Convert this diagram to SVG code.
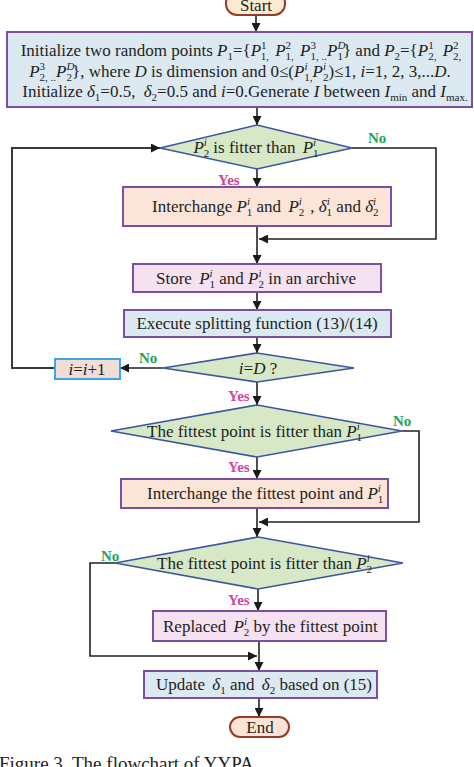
<svg xmlns="http://www.w3.org/2000/svg" width="474" height="767" viewBox="0 0 474 767">
<style>
.t{font-family:"Liberation Serif","Times New Roman",serif;font-size:17px;fill:#1e1e1e}
.i{font-style:italic}
.s{font-size:11px}
.lab{font-family:"Liberation Serif","Times New Roman",serif;font-size:15px;font-weight:bold}
.yes{fill:#d4469c}
.no{fill:#1ea55a}
.ln{fill:none;stroke:#222;stroke-width:1.6}
.bx{stroke:#7a4fa4;stroke-width:2}
.blue{fill:#dce9f1}
.peach{fill:#fbe4d8}
.pink{fill:#f5e1ef}
.dia{fill:#d6e8c6;stroke:#3d55a3;stroke-width:1.6}
.term{stroke:#943a26;stroke-width:2}
</style>
<defs>
<marker id="ah" viewBox="0 0 10 10" refX="10" refY="5" markerWidth="9" markerHeight="9" markerUnits="userSpaceOnUse" orient="auto">
<path d="M0,0 L10,5 L0,10 z" fill="#1a1a1a"/>
</marker>
</defs>
<rect width="474" height="767" fill="#ffffff"/>

<g id="connectors">
<path class="ln" d="M256,15 V32" marker-end="url(#ah)"/>
<path class="ln" d="M257,108 V125" marker-end="url(#ah)"/>
<path class="ln" d="M352,148 H436 V239 H259" marker-end="url(#ah)"/>
<path class="ln" d="M257,169 V187" marker-end="url(#ah)"/>
<path class="ln" d="M257,226 V264" marker-end="url(#ah)"/>
<path class="ln" d="M257,292 V310" marker-end="url(#ah)"/>
<path class="ln" d="M257,337 V353" marker-end="url(#ah)"/>
<path class="ln" d="M163,368 H120" marker-end="url(#ah)"/>
<path class="ln" d="M55,368 H12 V148 H160" marker-end="url(#ah)" style="stroke:#3a3a3a;stroke-width:2"/>
<path class="ln" d="M257,382 V405" marker-end="url(#ah)"/>
<path class="ln" d="M402,431 H419 V522 H259" marker-end="url(#ah)"/>
<path class="ln" d="M257,457 V479" marker-end="url(#ah)"/>
<path class="ln" d="M257,508 V537" marker-end="url(#ah)"/>
<path class="ln" d="M115,563 H90 V656 H257" marker-end="url(#ah)"/>
<path class="ln" d="M258,589 V611" marker-end="url(#ah)"/>
<path class="ln" d="M259,641 V671" marker-end="url(#ah)"/>
<path class="ln" d="M259,698 V717" marker-end="url(#ah)"/>
<text class="lab no" x="368" y="143">No</text>
<text class="lab yes" x="218" y="185">Yes</text>
<text class="lab no" x="139" y="363">No</text>
<text class="lab yes" x="228" y="401">Yes</text>
<text class="lab no" x="393" y="426">No</text>
<text class="lab yes" x="228" y="472">Yes</text>
<text class="lab no" x="101" y="561">No</text>
<text class="lab yes" x="228" y="605">Yes</text>
</g>

<g id="start">
<rect class="term" x="226" y="-8" width="59" height="23" rx="11" fill="#fcebd0"/>
<text class="t" x="256" y="11" text-anchor="middle">Start</text>
</g>

<g id="init">
<rect class="bx blue" x="7" y="32" width="465" height="75"/>
<text class="t" x="241" y="56" text-anchor="middle">Initialize two random points <tspan class="i">P</tspan><tspan class="s" dy="4">1</tspan><tspan dy="-4">={</tspan><tspan class="i">P</tspan><tspan class="s" dy="-7">1</tspan><tspan class="s" dx="-5.5" dy="11">1,</tspan><tspan dy="-4" dx="2"> </tspan><tspan class="i">P</tspan><tspan class="s" dy="-7">2</tspan><tspan class="s" dx="-5.5" dy="11">1,</tspan><tspan dy="-4" dx="2"> </tspan><tspan class="i">P</tspan><tspan class="s" dy="-7">3</tspan><tspan class="s" dx="-5.5" dy="11">1, ..</tspan><tspan class="i" dy="-4">P</tspan><tspan class="s i" dy="-7">D</tspan><tspan class="s" dx="-7.9" dy="11">1</tspan><tspan dy="-4">} and </tspan><tspan class="i">P</tspan><tspan class="s" dy="4">2</tspan><tspan dy="-4">={</tspan><tspan class="i">P</tspan><tspan class="s" dy="-7">1</tspan><tspan class="s" dx="-5.5" dy="11">2,</tspan><tspan dy="-4" dx="2"> </tspan><tspan class="i">P</tspan><tspan class="s" dy="-7">2</tspan><tspan class="s" dx="-5.5" dy="11">2,</tspan></text>
<text class="t" x="240" y="77" text-anchor="middle"><tspan class="i">P</tspan><tspan class="s" dy="-7">3</tspan><tspan class="s" dx="-5.5" dy="11">2, ..</tspan><tspan class="i" dy="-4">P</tspan><tspan class="s i" dy="-7">D</tspan><tspan class="s" dx="-7.9" dy="11">2</tspan><tspan dy="-4">}, where </tspan><tspan class="i">D</tspan> is dimension and 0≤(<tspan class="i">P</tspan><tspan class="s i" dy="-7">i</tspan><tspan class="s" dx="-3.1" dy="11">1,</tspan><tspan class="i" dy="-4">P</tspan><tspan class="s i" dy="-7">i</tspan><tspan class="s" dx="-3.1" dy="11">2</tspan><tspan dy="-4">)≤1, </tspan><tspan class="i">i</tspan>=1, 2, 3,...<tspan class="i">D</tspan>.</text>
<text class="t" x="245" y="97" text-anchor="middle">Initialize <tspan class="i">δ</tspan><tspan class="s" dy="4">1</tspan><tspan dy="-4">=0.5, </tspan><tspan class="i" dx="4">δ</tspan><tspan class="s" dy="4">2</tspan><tspan dy="-4">=0.5 and </tspan><tspan class="i">i</tspan>=0.Generate <tspan class="i">I</tspan> between <tspan class="i">I</tspan><tspan class="s" dy="4">min</tspan><tspan dy="-4"> and </tspan><tspan class="i">I</tspan><tspan class="s" dy="4">max.</tspan></text>
</g>

<g id="d1">
<polygon class="dia" points="160,148 257,125 352,148 257,169"/>
<text class="t" x="256" y="153" text-anchor="middle"><tspan class="i">P</tspan><tspan class="s i" dy="-7">i</tspan><tspan class="s" dx="-3.1" dy="11">2</tspan><tspan dy="-4" dx="4">is fitter than </tspan><tspan class="i" dx="3">P</tspan><tspan class="s i" dy="-7">i</tspan><tspan class="s" dx="-3.1" dy="11">1</tspan></text>
</g>

<g id="swap1">
<rect class="bx peach" x="123" y="187" width="268" height="39"/>
<text class="t" x="152" y="212">Interchange <tspan class="i">P</tspan><tspan class="s i" dy="-7">i</tspan><tspan class="s" dx="-3.1" dy="11">1</tspan><tspan dy="-4"> and </tspan><tspan class="i" dx="3">P</tspan><tspan class="s i" dy="-7">i</tspan><tspan class="s" dx="-3.1" dy="11">2</tspan><tspan dy="-4" dx="6">, </tspan><tspan class="i">δ</tspan><tspan class="s i" dy="-7">i</tspan><tspan class="s" dx="-3.1" dy="11">1</tspan><tspan dy="-4"> and </tspan><tspan class="i">δ</tspan><tspan class="s i" dy="-7">i</tspan><tspan class="s" dx="-3.1" dy="11">2</tspan></text>
</g>

<g id="store">
<rect class="bx pink" x="133" y="264" width="248" height="28"/>
<text class="t" x="256" y="284" text-anchor="middle">Store <tspan class="i" dx="3">P</tspan><tspan class="s i" dy="-7">i</tspan><tspan class="s" dx="-3.1" dy="11">1</tspan><tspan dy="-4"> and </tspan><tspan class="i">P</tspan><tspan class="s i" dy="-7">i</tspan><tspan class="s" dx="-3.1" dy="11">2</tspan><tspan dy="-4"> in an archive</tspan></text>
</g>

<g id="split">
<rect class="bx blue" x="124" y="310" width="267" height="27"/>
<text class="t" x="257" y="329" text-anchor="middle">Execute splitting function (13)/(14)</text>
</g>

<g id="d2">
<polygon class="dia" points="163,368 257,353 354,368 257,382"/>
<text class="t" x="258" y="374" text-anchor="middle"><tspan class="i">i</tspan>=<tspan class="i">D</tspan> ?</text>
</g>

<g id="inc">
<rect x="55" y="359" width="65" height="20" fill="#f1ddd6" stroke="#3aa8de" stroke-width="2"/>
<text class="t" x="87" y="375" text-anchor="middle"><tspan class="i">i</tspan>=<tspan class="i">i</tspan>+1</text>
</g>

<g id="d3">
<polygon class="dia" points="111,431 257,405 402,431 257,457"/>
<text class="t" x="147" y="437">The fittest point is fitter than <tspan class="i">P</tspan><tspan class="s i" dy="-7">i</tspan><tspan class="s" dx="-3.1" dy="11">1</tspan></text>
</g>

<g id="swap2">
<rect class="bx peach" x="121" y="479" width="267" height="29"/>
<text class="t" x="147" y="499">Interchange the fittest point and <tspan class="i">P</tspan><tspan class="s i" dy="-7">i</tspan><tspan class="s" dx="-3.1" dy="11">1</tspan></text>
</g>

<g id="d4">
<polygon class="dia" points="115,563 258,537 403,563 258,589"/>
<text class="t" x="157" y="569">The fittest point is fitter than <tspan class="i">P</tspan><tspan class="s i" dy="-7">i</tspan><tspan class="s" dx="-3.1" dy="11">2</tspan></text>
</g>

<g id="replace">
<rect class="bx pink" x="153" y="611" width="233" height="30"/>
<text class="t" x="163" y="632">Replaced <tspan class="i" dx="3">P</tspan><tspan class="s i" dy="-7">i</tspan><tspan class="s" dx="-3.1" dy="11">2</tspan><tspan dy="-4"> by the fittest point</tspan></text>
</g>

<g id="update">
<rect class="bx blue" x="144" y="671" width="233" height="27"/>
<text class="t" x="156" y="690">Update <tspan class="i" dx="3">δ</tspan><tspan class="s" dy="4">1</tspan><tspan dy="-4"> and </tspan><tspan class="i" dx="3">δ</tspan><tspan class="s" dy="4">2</tspan><tspan dy="-4"> based on (15)</tspan></text>
</g>

<g id="end">
<rect class="term" x="230" y="717" width="59" height="20" rx="10" fill="#fbe3d6"/>
<text class="t" x="260" y="733" text-anchor="middle">End</text>
</g>

<text class="t" x="-1" y="770" style="font-size:19px">Figure 3. The flowchart of YYPA</text>
</svg>
